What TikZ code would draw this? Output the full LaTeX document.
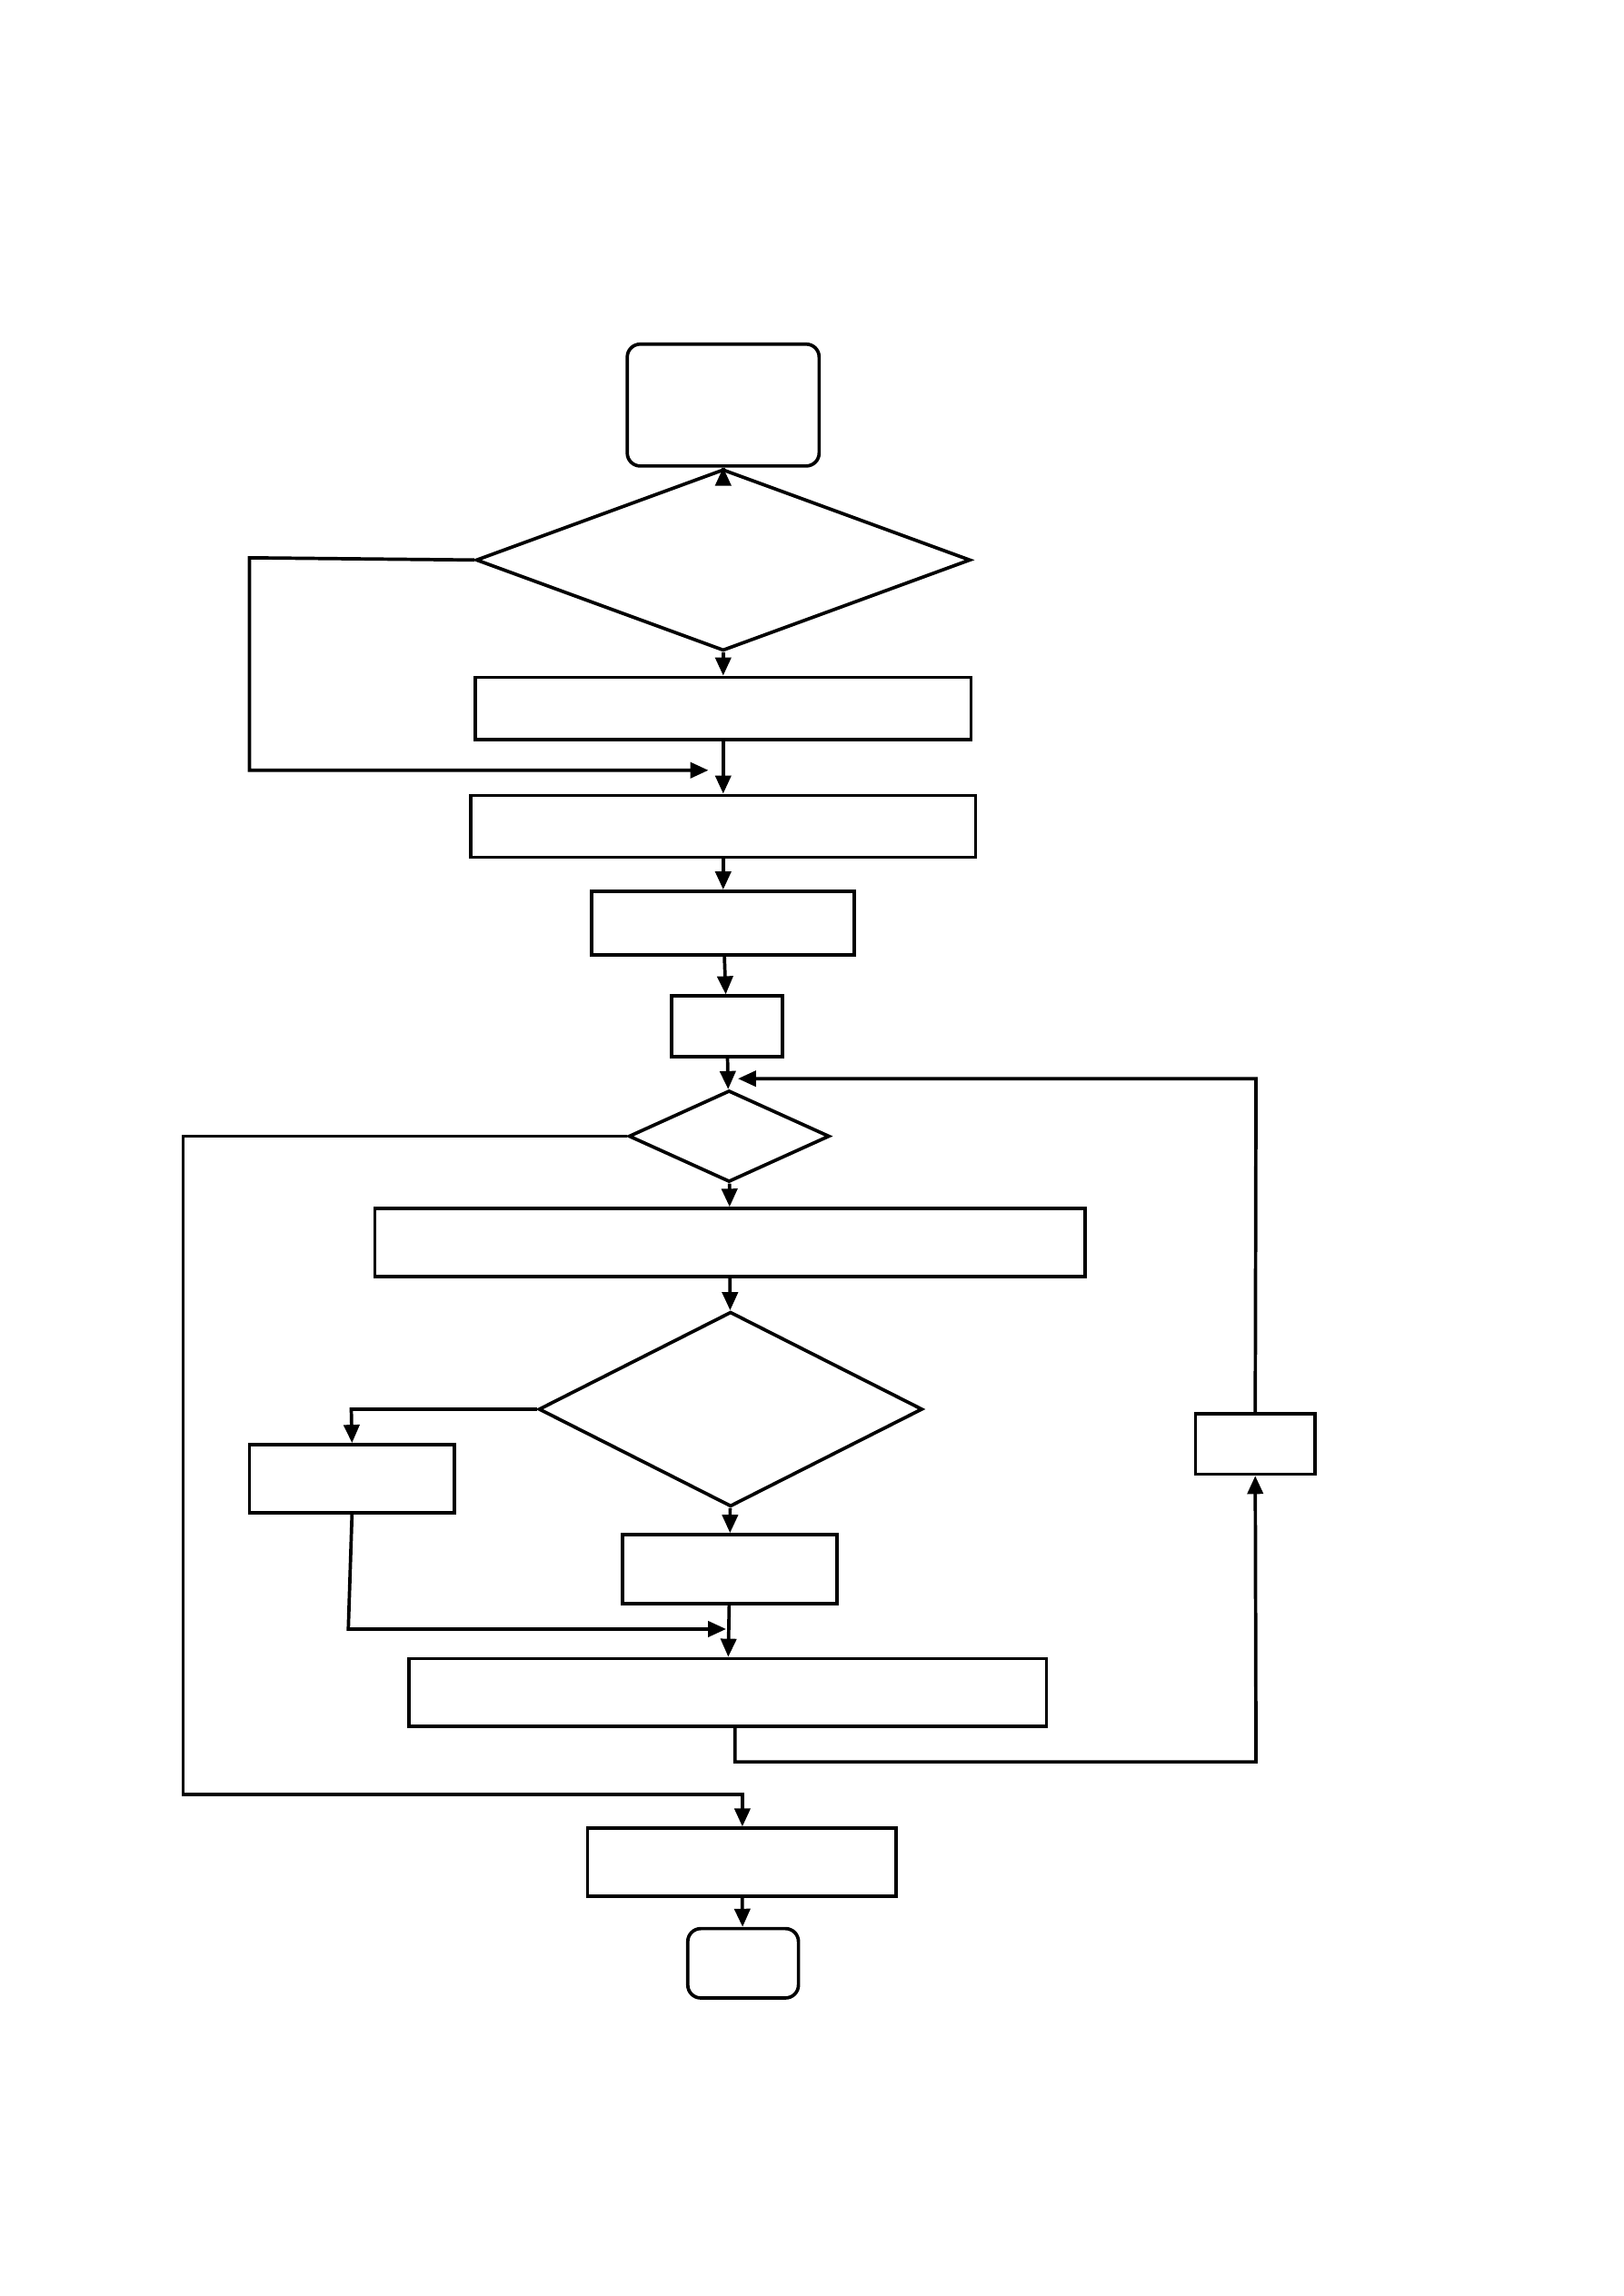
\documentclass[tikz,border=0pt]{standalone}
\usetikzlibrary{shapes.geometric,arrows.meta}
\begin{document}
\begin{tikzpicture}[x=0.02cm, y=-0.02cm, line width=1.3pt, >={Triangle[length=7pt,width=6pt]},
  box/.style={draw, rectangle, inner sep=0pt},
  term/.style={draw, rectangle, rounded corners=5pt, inner sep=0pt},
  cond/.style={draw, diamond, inner sep=0pt, aspect=2.5}]

  \useasboundingbox (0,0) rectangle (1100,1556);

  % top part
  \node[term, minimum width=74\pgflinewidth/1.3, minimum height=47\pgflinewidth/1.3] (start) at (490,274.5) {};
  \node[cond, minimum width=335*0.02cm, minimum height=123*0.02cm] (chk) at (490,379.5) {};
  \node[box, minimum width=336*0.02cm, minimum height=42*0.02cm] (load) at (490,480) {};
  \node[box, minimum width=342*0.02cm, minimum height=42*0.02cm] (prep) at (490,560) {};
  \node[box, minimum width=178*0.02cm, minimum height=43*0.02cm] (init) at (490,625.5) {};
  \node[box, minimum width=75*0.02cm, minimum height=41*0.02cm] (idx) at (492.5,695.5) {};

  % loop
  \node[cond, minimum width=136*0.02cm, minimum height=62*0.02cm] (loop) at (494,770) {};
  \node[box, minimum width=481*0.02cm, minimum height=46*0.02cm] (calc) at (494.5,842) {};
  \node[cond, minimum width=260*0.02cm, minimum height=132*0.02cm] (test) at (495,955) {};
  \node[box, minimum width=139*0.02cm, minimum height=46*0.02cm] (left) at (238.5,1002) {};
  \node[box, minimum width=145*0.02cm, minimum height=47*0.02cm] (mid) at (494.5,1063.5) {};
  \node[box, minimum width=432*0.02cm, minimum height=46*0.02cm] (upd) at (493,1147) {};
  \node[box, minimum width=81*0.02cm, minimum height=41*0.02cm] (inc) at (850.5,978.5) {};

  % bottom part
  \node[box, minimum width=209*0.02cm, minimum height=46*0.02cm] (out) at (502.5,1262) {};
  \node[term, minimum width=75*0.02cm, minimum height=47*0.02cm] (stop) at (503.5,1330.5) {};

  \draw[->] (start) -- (chk);
  \draw[->] (chk) -- (load);
  \draw[->] (load) -- (prep);
  \draw[->] (chk.west) -- (169,378) -- (169,522) -- (480,522);
  \draw[->] (prep) -- (init);
  \draw[->] (init) -- (idx);
  \draw[->] (idx) -- (loop);
  \draw[->] (inc.north) -- (851,731) -- (500,731);
  \draw[->] (loop) -- (calc);
  \draw[->] (calc) -- (test);
  \draw[->] (test.west) -- (238,955) -- (left.north);
  \draw[->] (test) -- (mid);
  \draw[->] (left.south) -- (236,1104) -- (492,1104);
  \draw[->] (mid) -- (upd);
  \draw[->] (498,1170) -- (498,1194) -- (851,1194) -- (inc.south);
  \draw[->] (loop.west) -- (124,770) -- (124,1216) -- (503,1216) -- (out.north -| 503,0);
  \draw[->] (out) -- (stop);
\end{tikzpicture}
\end{document}
